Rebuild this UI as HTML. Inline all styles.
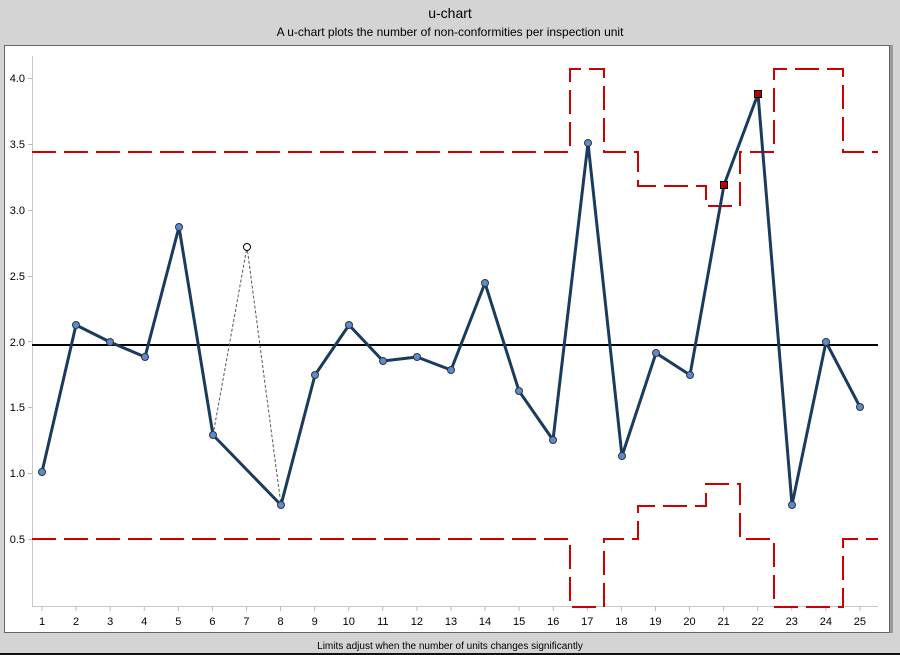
<!DOCTYPE html><html><head><style>
body{margin:0;width:900px;height:655px;background:#d4d4d4;font-family:"Liberation Sans",sans-serif;overflow:hidden;position:relative}
svg{position:absolute;left:0;top:0}
</style></head><body>
<svg width="900" height="655" viewBox="0 0 900 655">
<text x="450" y="18" text-anchor="middle" font-size="14" fill="#000">u-chart</text>
<text x="450" y="36" text-anchor="middle" font-size="12" fill="#000">A u-chart plots the number of non-conformities per inspection unit</text>
<rect x="4.5" y="45.5" width="885" height="587" fill="#fff" stroke="#666"/>
<rect x="890" y="45" width="3" height="588" fill="#999"/>
<g stroke="#c8c8c8" stroke-width="1"><line x1="32.5" y1="56" x2="32.5" y2="607"/><line x1="32" y1="606.5" x2="878" y2="606.5"/></g>
<g font-size="11" fill="#000" text-anchor="end">
<text x="25" y="82">4.0</text><text x="25" y="148">3.5</text><text x="25" y="214">3.0</text><text x="25" y="280">2.5</text><text x="25" y="346">2.0</text><text x="25" y="411">1.5</text><text x="25" y="477">1.0</text><text x="25" y="543">0.5</text></g>
<g stroke="#bbb"><line x1="28" x2="32" y1="78.5" y2="78.5"/><line x1="28" x2="32" y1="144.5" y2="144.5"/><line x1="28" x2="32" y1="210.5" y2="210.5"/><line x1="28" x2="32" y1="276.5" y2="276.5"/><line x1="28" x2="32" y1="341.5" y2="341.5"/><line x1="28" x2="32" y1="407.5" y2="407.5"/><line x1="28" x2="32" y1="473.5" y2="473.5"/><line x1="28" x2="32" y1="539.5" y2="539.5"/></g>
<g id="xt" font-size="11" text-anchor="middle"></g>
<g fill="none" stroke="#d00000" stroke-width="2" stroke-dasharray="24,8">
<polyline points="32,152 570,152 570,69 604,69 604,152 638,152 638,186 706,186 706,206 740,206 740,152 774,152 774,69 843,69 843,152 878,152"/>
<polyline points="32,539 570,539 570,607 604,607 604,539 638,539 638,506 706,506 706,484 740,484 740,539 774,539 774,607 843,607 843,539 878,539"/>
</g>
<line x1="32" y1="345" x2="878" y2="345" stroke="#000" stroke-width="2"/>
<polyline points="213,435 247,247 281,505" fill="none" stroke="#555" stroke-width="1" stroke-dasharray="3,2"/>
<polyline fill="none" stroke="#1a3a5e" stroke-width="3" stroke-linejoin="round" points="42,472 76,325 110,342 145,357 179,227 213,435 281,505 315,375 349,325 383,361 417,357 451,370 485,283 519,391 553,440 588,143 622,456 656,353 690,375 724,185 758,94 792,505 826,342 860,407"/>
<g fill="#5b8bd0" stroke="#333" stroke-width="1">
<circle cx="42" cy="472" r="3.5"/><circle cx="76" cy="325" r="3.5"/><circle cx="110" cy="342" r="3.5"/><circle cx="145" cy="357" r="3.5"/><circle cx="179" cy="227" r="3.5"/><circle cx="213" cy="435" r="3.5"/><circle cx="281" cy="505" r="3.5"/><circle cx="315" cy="375" r="3.5"/><circle cx="349" cy="325" r="3.5"/><circle cx="383" cy="361" r="3.5"/><circle cx="417" cy="357" r="3.5"/><circle cx="451" cy="370" r="3.5"/><circle cx="485" cy="283" r="3.5"/><circle cx="519" cy="391" r="3.5"/><circle cx="553" cy="440" r="3.5"/><circle cx="588" cy="143" r="3.5"/><circle cx="622" cy="456" r="3.5"/><circle cx="656" cy="353" r="3.5"/><circle cx="690" cy="375" r="3.5"/><circle cx="792" cy="505" r="3.5"/><circle cx="826" cy="342" r="3.5"/><circle cx="860" cy="407" r="3.5"/></g>
<circle cx="247" cy="247" r="3.5" fill="#fff" stroke="#000"/>
<rect x="720.5" y="181.5" width="7" height="7" fill="#c00000" stroke="#000"/>
<rect x="754.5" y="90.5" width="7" height="7" fill="#c00000" stroke="#000"/>
<text x="450" y="649" text-anchor="middle" font-size="10" fill="#000">Limits adjust when the number of units changes significantly</text>
<rect x="0" y="653" width="900" height="2" fill="#111"/>
</svg>
<script>
var g=document.getElementById('xt'),s='';
for(var i=1;i<=25;i++){var x=42+(i-1)*34.08;s+='<line x1="'+x+'" x2="'+x+'" y1="607" y2="611" stroke="#bbb"/><text x="'+x+'" y="625">'+i+'</text>';}
g.innerHTML=s;
</script>
</body></html>
